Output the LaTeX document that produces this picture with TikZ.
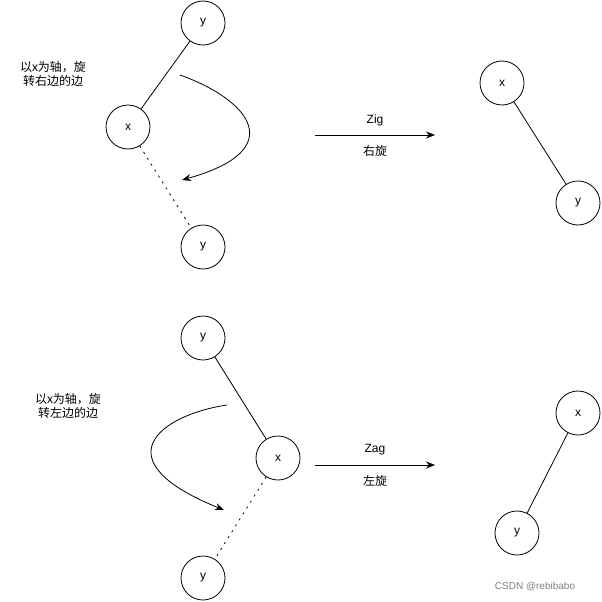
\documentclass[tikz,border=0pt]{standalone}
\usepackage{fontspec}
\setmainfont{Liberation Sans}
\newfontfamily\cjk{Noto Sans CJK SC}
\usetikzlibrary{arrows.meta}
\begin{document}
\begin{tikzpicture}[x=1pt,y=-1pt,
  nd/.style={circle,draw,thick,minimum size=44pt,inner sep=0pt,font=\fontsize{12}{14}\selectfont},
  lbl/.style={font=\cjk\fontsize{12}{14}\selectfont,align=center},
  arr/.style={-{Stealth[length=9pt,width=7pt]},thick},
  dots/.style={thick,dash pattern=on 2pt off 5pt}]
\useasboundingbox (0,0) rectangle (602,602);
\fill[white] (0,0) rectangle (602,602);
% top
\node[nd] (ya) at (203,23) {y};
\node[nd] (xa) at (128,127) {x};
\node[nd] (yb) at (203,247) {y};
\draw[thick] (ya) -- (xa);
\draw[dots] (xa) -- (yb);
\coordinate (c1s) at (180,75);
\coordinate (c1e) at (182,180);
\draw[arr] (c1s) .. controls (250,100) and (290,150) .. (c1e);
\node[lbl] (t1) at (53,74) {以x为轴，旋\\转右边的边};
\coordinate (a1s) at (315,135); \coordinate (a1e) at (435,135);
\draw[arr] (a1s) -- (a1e);
\node[font=\fontsize{12}{14}\selectfont] (zig) at (375,120) {Zig};
\node[lbl] (r1) at (375,151) {右旋};
\node[nd] (xc) at (502,83) {x};
\node[nd] (yc) at (578,203) {y};
\draw[thick] (xc) -- (yc);
% bottom
\node[nd] (yd) at (203,338) {y};
\node[nd] (xd) at (278,458) {x};
\node[nd] (ye) at (203,578) {y};
\draw[thick] (yd) -- (xd);
\draw[dots] (xd) -- (ye);
\coordinate (c2s) at (227,405);
\coordinate (c2e) at (224,510);
\draw[arr] (c2s) .. controls (160,415) and (100,460) .. (c2e);
\node[lbl] (t2) at (68,406) {以x为轴，旋\\转左边的边};
\coordinate (a2s) at (315,465); \coordinate (a2e) at (435,465);
\draw[arr] (a2s) -- (a2e);
\node[font=\fontsize{12}{14}\selectfont] (zag) at (375,450) {Zag};
\node[lbl] (r2) at (375,481) {左旋};
\node[nd] (xf) at (578,413) {x};
\node[nd] (yf) at (517,533) {y};
\draw[thick] (xf) -- (yf);
\node[font=\fontsize{10}{12}\selectfont,text=gray] (csdn) at (535,587) {CSDN @rebibabo};
\end{tikzpicture}
\end{document}
